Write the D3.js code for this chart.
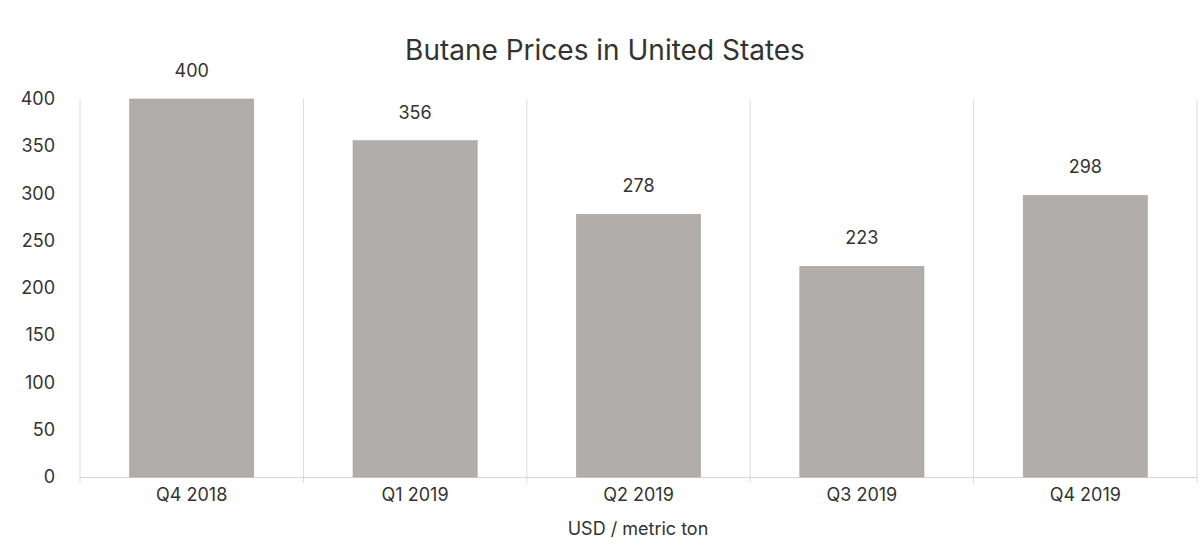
<!DOCTYPE html>
<head>
  <meta charset="utf-8" />
  <script src="https://d3js.org/d3.v7.min.js"></script>
  <style>
    body { margin: 0; background: #fff; }
    text { font-family: Inter, "Noto Sans", sans-serif; fill: #333; }
  </style>
</head>
<body>
  <script>
    var quarters = ["Q4 2018", "Q1 2019", "Q2 2019", "Q3 2019", "Q4 2019"];
    var prices = [400, 356, 278, 223, 298];
    var yTicks = [0, 50, 100, 150, 200, 250, 300, 350, 400];

    var width = 1200, height = 554;
    var margin = {top: 99, right: 3, bottom: 77, left: 80};

    var svg = d3.select("body").append("svg")
      .attr("width", width).attr("height", height);

    var x = d3.scaleBand().domain(quarters)
      .range([margin.left, width - margin.right])
      .paddingInner(0.444).paddingOuter(0.222);
    var y = d3.scaleLinear().domain([0, 400])
      .range([height - margin.bottom, margin.top]);

    var step = x.step();
    var bounds = d3.range(quarters.length + 1).map(i => margin.left + i * step);

    // vertical grid lines between categories
    svg.selectAll(".grid").data(bounds).join("line")
      .attr("x1", d => d).attr("x2", d => d)
      .attr("y1", margin.top).attr("y2", y(0) + 6)
      .attr("stroke", "#dcdcdc").attr("stroke-width", 1);

    svg.append("line")
      .attr("x1", margin.left).attr("x2", width - margin.right)
      .attr("y1", y(0) + 0.5).attr("y2", y(0) + 0.5)
      .attr("stroke", "#d6d6d6");

    svg.selectAll(".bar").data(prices).join("rect")
      .attr("x", (d, i) => x(quarters[i]))
      .attr("width", x.bandwidth())
      .attr("y", d => y(d))
      .attr("height", d => y(0) - y(d))
      .attr("fill", "#b0adab")
      .attr("stroke", "#a09d9b").attr("stroke-width", 0.5);

    svg.selectAll(".val").data(prices).join("text")
      .attr("x", (d, i) => x(quarters[i]) + x.bandwidth() / 2)
      .attr("y", d => y(d) - 22)
      .attr("text-anchor", "middle")
      .attr("font-size", 18)
      .text(d => d);

    svg.selectAll(".ytick").data(yTicks).join("text")
      .attr("x", 55).attr("y", d => y(d) + 6)
      .attr("text-anchor", "end")
      .attr("font-size", 18)
      .text(d => d);

    svg.selectAll(".xtick").data(quarters).join("text")
      .attr("x", d => x(d) + x.bandwidth() / 2)
      .attr("y", 501)
      .attr("text-anchor", "middle")
      .attr("font-size", 18)
      .text(d => d);

    svg.append("text")
      .attr("x", 638).attr("y", 535)
      .attr("text-anchor", "middle").attr("font-size", 18)
      .text("USD / metric ton");

    svg.append("text")
      .attr("x", 605).attr("y", 60)
      .attr("text-anchor", "middle").attr("font-size", 28)
      .text("Butane Prices in United States");
  </script>
</body>
